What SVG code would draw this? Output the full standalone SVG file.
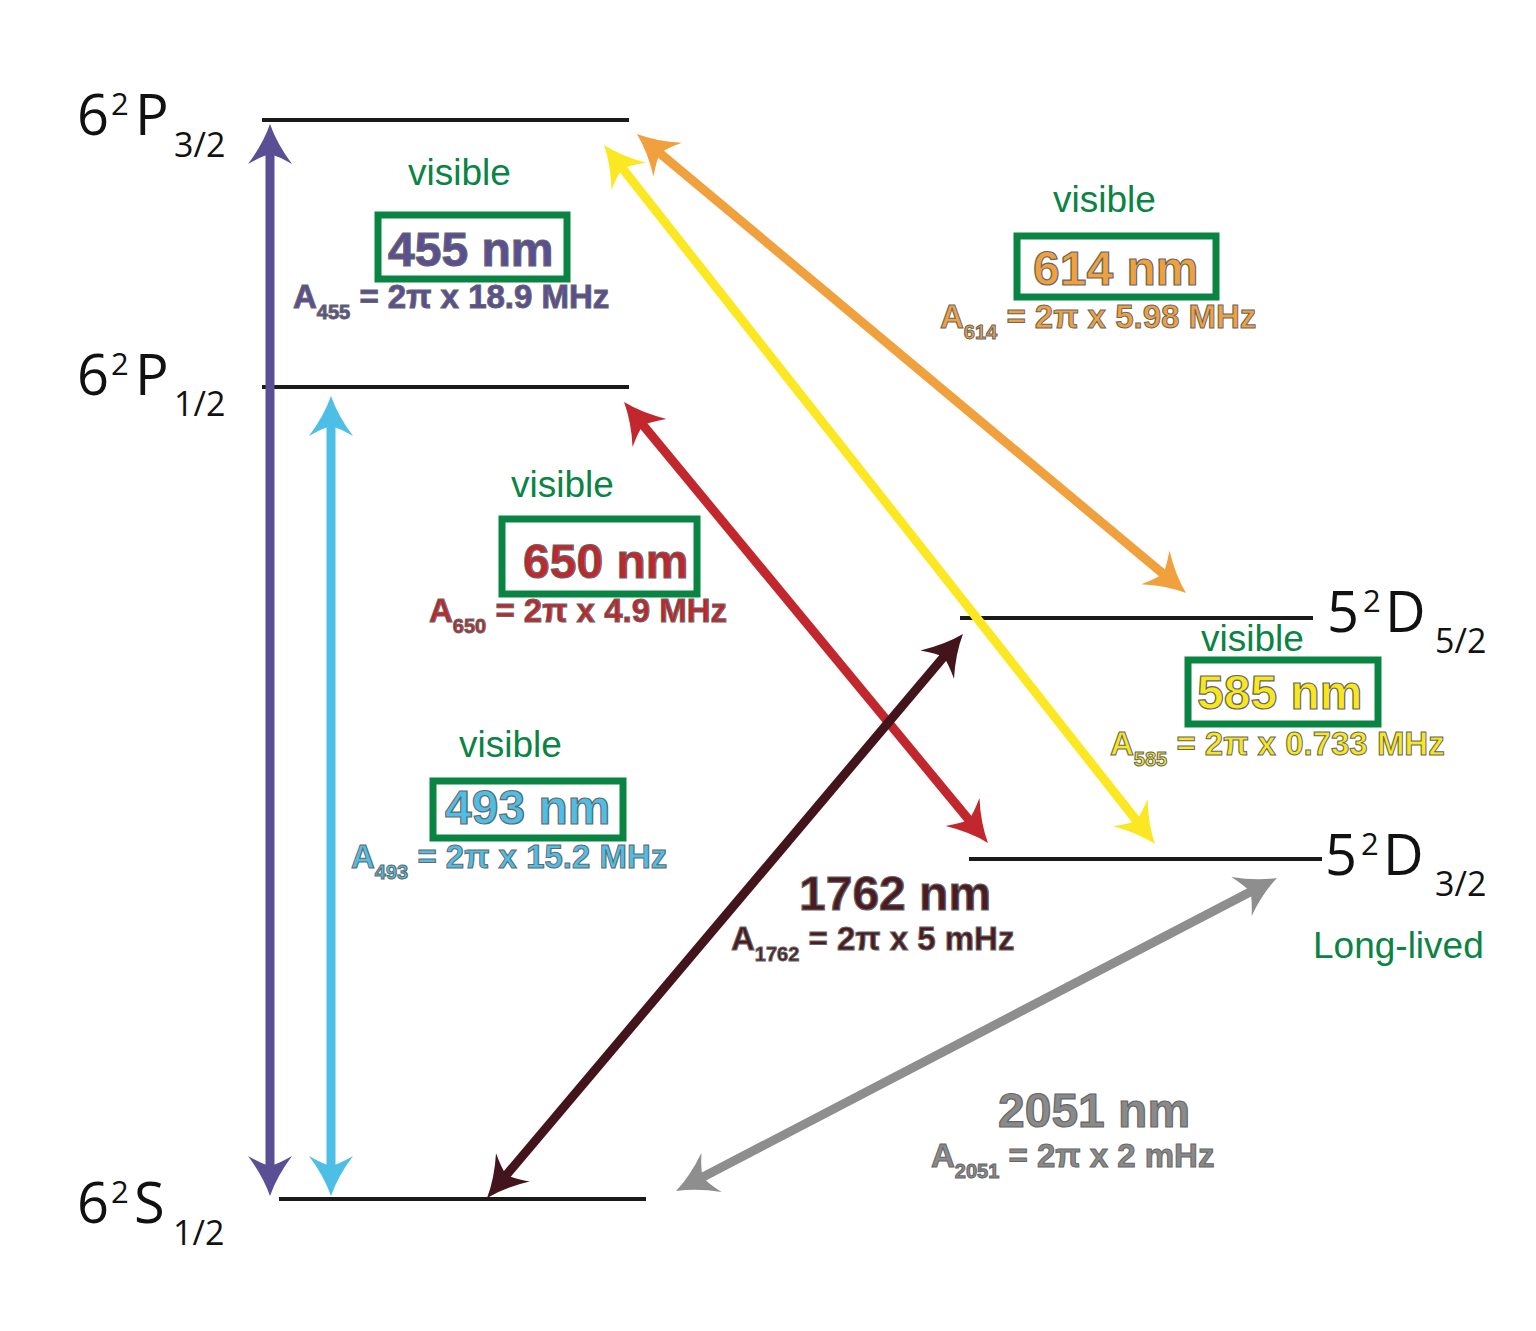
<svg xmlns="http://www.w3.org/2000/svg" width="1536" height="1331" viewBox="0 0 1536 1331">
<style>
.lvl{font-family:"Open Sans","Noto Sans",sans-serif;font-size:56px;fill:#111}
.sup{font-size:31px}
.sb{font-size:34px}
.line{stroke:#1a1a1a;stroke-width:4;fill:none}
.vis{font-family:"Liberation Sans",Arial,sans-serif;font-size:37px;fill:#0a8443}
.box{fill:none;stroke:#0a8443;stroke-width:7}
.wl{font-family:"Liberation Sans",Arial,sans-serif;font-weight:bold;font-size:48px;stroke:#666;stroke-width:1.2}
.ar{font-family:"Liberation Sans",Arial,sans-serif;font-weight:bold;font-size:33px;stroke:#666;stroke-width:1}
.sub{font-size:20px}
.arrow{fill:none;stroke-width:9}
</style>
<defs>
<marker id="mPurple" viewBox="-20 -25 50 50" markerWidth="50" markerHeight="50" markerUnits="userSpaceOnUse" refX="0" refY="0" orient="auto-start-reverse"><path d="M26,0 Q6,-7 -14,-22 Q-6,-8 -4,0 Q-6,8 -14,22 Q6,7 26,0Z" fill="#5a4e94"/></marker>
<marker id="mCyan" viewBox="-20 -25 50 50" markerWidth="50" markerHeight="50" markerUnits="userSpaceOnUse" refX="0" refY="0" orient="auto-start-reverse"><path d="M26,0 Q6,-7 -14,-22 Q-6,-8 -4,0 Q-6,8 -14,22 Q6,7 26,0Z" fill="#4dbfe6"/></marker>
<marker id="mMaroon" viewBox="-20 -25 50 50" markerWidth="50" markerHeight="50" markerUnits="userSpaceOnUse" refX="0" refY="0" orient="auto-start-reverse"><path d="M26,0 Q6,-7 -14,-22 Q-6,-8 -4,0 Q-6,8 -14,22 Q6,7 26,0Z" fill="#43141b"/></marker>
<marker id="mRed" viewBox="-20 -25 50 50" markerWidth="50" markerHeight="50" markerUnits="userSpaceOnUse" refX="0" refY="0" orient="auto-start-reverse"><path d="M26,0 Q6,-7 -14,-22 Q-6,-8 -4,0 Q-6,8 -14,22 Q6,7 26,0Z" fill="#c1272d"/></marker>
<marker id="mYellow" viewBox="-20 -25 50 50" markerWidth="50" markerHeight="50" markerUnits="userSpaceOnUse" refX="0" refY="0" orient="auto-start-reverse"><path d="M26,0 Q6,-7 -14,-22 Q-6,-8 -4,0 Q-6,8 -14,22 Q6,7 26,0Z" fill="#fbe823"/></marker>
<marker id="mOrange" viewBox="-20 -25 50 50" markerWidth="50" markerHeight="50" markerUnits="userSpaceOnUse" refX="0" refY="0" orient="auto-start-reverse"><path d="M26,0 Q6,-7 -14,-22 Q-6,-8 -4,0 Q-6,8 -14,22 Q6,7 26,0Z" fill="#f0a13d"/></marker>
<marker id="mGray" viewBox="-20 -25 50 50" markerWidth="50" markerHeight="50" markerUnits="userSpaceOnUse" refX="0" refY="0" orient="auto-start-reverse"><path d="M26,0 Q6,-7 -14,-22 Q-6,-8 -4,0 Q-6,8 -14,22 Q6,7 26,0Z" fill="#8e8e8e"/></marker>
</defs>
<rect width="1536" height="1331" fill="#ffffff"/>

<g id="level-6P32">
<line class="line" x1="262" y1="120" x2="629" y2="120"/>
<text class="lvl" y="135"><tspan x="77">6</tspan><tspan class="sup" x="111" y="115">2</tspan><tspan x="135" y="135">P</tspan><tspan class="sb" x="174" y="157">3/2</tspan></text>
</g>
<g id="level-6P12">
<line class="line" x1="262" y1="387" x2="629" y2="387"/>
<text class="lvl" y="395"><tspan x="77">6</tspan><tspan class="sup" x="111" y="375">2</tspan><tspan x="135" y="395">P</tspan><tspan class="sb" x="174" y="416">1/2</tspan></text>
</g>
<g id="level-6S12">
<line class="line" x1="279" y1="1199" x2="646" y2="1199"/>
<text class="lvl" y="1223"><tspan x="77">6</tspan><tspan class="sup" x="111" y="1203">2</tspan><tspan x="134" y="1223">S</tspan><tspan class="sb" x="173" y="1245">1/2</tspan></text>
</g>
<g id="level-5D52">
<line class="line" x1="960" y1="618" x2="1313" y2="618"/>
<text class="lvl" y="632"><tspan x="1327">5</tspan><tspan class="sup" x="1363" y="612">2</tspan><tspan x="1385" y="632">D</tspan><tspan class="sb" x="1435" y="653">5/2</tspan></text>
</g>
<g id="level-5D32">
<line class="line" x1="969" y1="859" x2="1322" y2="859"/>
<text class="lvl" y="875"><tspan x="1325">5</tspan><tspan class="sup" x="1361" y="855">2</tspan><tspan x="1383" y="875">D</tspan><tspan class="sb" x="1435" y="896">3/2</tspan></text>
<text class="vis" x="1313" y="958" font-size="38">Long-lived</text>
</g>

<g id="connectors">
<line class="arrow" stroke="#5a4e94" x1="270" y1="150" x2="270" y2="1170" marker-start="url(#mPurple)" marker-end="url(#mPurple)"/>
<line class="arrow" stroke="#4dbfe6" x1="331" y1="422" x2="331" y2="1170" marker-start="url(#mCyan)" marker-end="url(#mCyan)"/>
<line class="arrow" stroke="#c1272d" x1="640.6" y1="422.1" x2="971.4" y2="822.9" marker-start="url(#mRed)" marker-end="url(#mRed)"/>
<line class="arrow" stroke="#f0a13d" x1="656.9" y1="150.7" x2="1166.1" y2="576.3" marker-start="url(#mOrange)" marker-end="url(#mOrange)"/>
<line class="arrow" stroke="#43141b" x1="503.8" y1="1178.1" x2="946.2" y2="653.9" marker-start="url(#mMaroon)" marker-end="url(#mMaroon)"/>
<line class="arrow" stroke="#fbe823" x1="620.1" y1="165.4" x2="1138.9" y2="823.6" marker-start="url(#mYellow)" marker-end="url(#mYellow)"/>
<line class="arrow" stroke="#8e8e8e" x1="699.1" y1="1179" x2="1253.9" y2="890" marker-start="url(#mGray)" marker-end="url(#mGray)"/>
</g>

<g id="label-455">
<text class="vis" x="408" y="185">visible</text>
<rect class="box" x="378" y="215" width="189" height="64"/>
<text class="wl" x="388" y="266" fill="#5a4e94">455 nm</text>
<text class="ar" x="293" y="308" fill="#5a4e94">A<tspan class="sub" dy="11">455</tspan><tspan dy="-11"> = 2π x 18.9 MHz</tspan></text>
</g>
<g id="label-614">
<text class="vis" x="1053" y="212">visible</text>
<rect class="box" x="1017" y="236" width="199" height="61"/>
<text class="wl" x="1033" y="285" fill="#f0a13d">614 nm</text>
<text class="ar" x="940" y="328" fill="#f0a13d">A<tspan class="sub" dy="11">614</tspan><tspan dy="-11"> = 2π x 5.98 MHz</tspan></text>
</g>
<g id="label-650">
<text class="vis" x="511" y="497">visible</text>
<rect class="box" x="502" y="519" width="195" height="75"/>
<text class="wl" x="523" y="578" fill="#c1272d">650 nm</text>
<text class="ar" x="429" y="622" fill="#c1272d">A<tspan class="sub" dy="11">650</tspan><tspan dy="-11"> = 2π x 4.9 MHz</tspan></text>
</g>
<g id="label-493">
<text class="vis" x="459" y="757">visible</text>
<rect class="box" x="433" y="781" width="190" height="57"/>
<text class="wl" x="445" y="824" fill="#4dbfe6">493 nm</text>
<text class="ar" x="351" y="868" fill="#4dbfe6">A<tspan class="sub" dy="11">493</tspan><tspan dy="-11"> = 2π x 15.2 MHz</tspan></text>
</g>
<g id="label-585">
<text class="vis" x="1201" y="651">visible</text>
<rect class="box" x="1188" y="660" width="190" height="64"/>
<text class="wl" x="1197" y="709" fill="#f9e71e" stroke="#888">585 nm</text>
<text class="ar" x="1110" y="755" fill="#f9e71e" stroke="#888">A<tspan class="sub" dy="11">585</tspan><tspan dy="-11"> = 2π x 0.733 MHz</tspan></text>
</g>
<g id="label-1762">
<text class="wl" x="799" y="910" fill="#4a1c22" stroke="#4a1c22" stroke-width="0.5">1762 nm</text>
<text class="ar" x="731" y="950" fill="#4a1c22" stroke="#4a1c22" stroke-width="0.5">A<tspan class="sub" dy="11">1762</tspan><tspan dy="-11"> = 2π x 5 mHz</tspan></text>
</g>
<g id="label-2051">
<text class="wl" x="998" y="1127" fill="#8a8a8a" stroke="#555">2051 nm</text>
<text class="ar" x="931" y="1167" fill="#8a8a8a" stroke="#555">A<tspan class="sub" dy="11">2051</tspan><tspan dy="-11"> = 2π x 2 mHz</tspan></text>
</g>
</svg>
